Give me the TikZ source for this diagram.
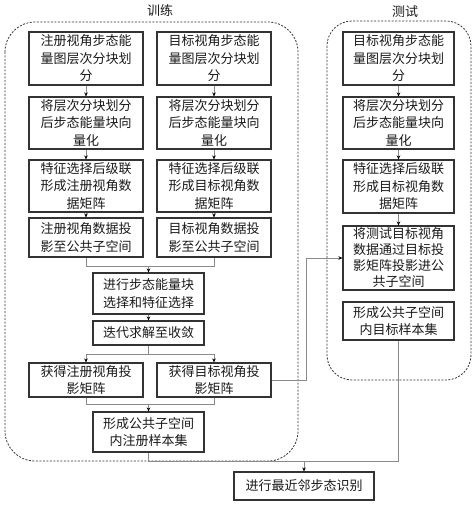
\documentclass[tikz,border=0pt]{standalone}
\usepackage{fontspec}
\newfontfamily\cjk{Noto Sans CJK SC}
\usetikzlibrary{arrows.meta}
\definecolor{boxc}{HTML}{333333}
\definecolor{linec}{HTML}{8A8A8A}
\definecolor{txtc}{HTML}{1A1A1A}
\tikzset{
  box/.style={draw=boxc, line width=1.2pt, fill=white, align=center, inner sep=0pt,
    text=txtc, font=\cjk\fontsize{13}{17.5}\selectfont},
  conn/.style={draw=linec, line width=0.8pt},
  arr/.style={conn, -{Stealth[length=4pt,width=3.6pt,black]}},
  group/.style={draw=boxc, line width=0.8pt, dash pattern=on 2pt off 1.5pt},
  lab/.style={text=txtc, font=\cjk\fontsize{13}{15}\selectfont, inner sep=0pt}
}
\begin{document}
\begin{tikzpicture}[x=1pt,y=-1pt]
\useasboundingbox (0,0) rectangle (474,505);
% containers
\draw[group, rounded corners=30pt] (5,22) rectangle (298,461);
\draw[group, rounded corners=25pt] (327,21) rectangle (471,380);
\node[lab] (trainlab) at (160,11) {训练};
\node[lab] (testlab) at (405,12) {测试};
% left column
\node[box, minimum width=114pt, minimum height=53pt] (L1) at (86,58.5) {注册视角步态能\\量图层次分块划\\分};
\node[box, minimum width=114pt, minimum height=52pt] (L2) at (86,123) {将层次分块划分\\后步态能量块向\\量化};
\node[box, minimum width=114pt, minimum height=52pt] (L3) at (86,186) {特征选择后级联\\形成注册视角数\\据矩阵};
\node[box, minimum width=114pt, minimum height=39pt] (L4) at (86,237.5) {注册视角数据投\\影至公共子空间};
% right column
\node[box, minimum width=114pt, minimum height=53pt] (R1) at (214,58.5) {目标视角步态能\\量图层次分块划\\分};
\node[box, minimum width=114pt, minimum height=52pt] (R2) at (214,123) {将层次分块划分\\后步态能量块向\\量化};
\node[box, minimum width=114pt, minimum height=52pt] (R3) at (214,186) {特征选择后级联\\形成目标视角数\\据矩阵};
\node[box, minimum width=114pt, minimum height=39pt] (R4) at (214,237.5) {目标视角数据投\\影至公共子空间};
% middle
\node[box, minimum width=111pt, minimum height=41pt] (M5) at (148.5,293.5) {进行步态能量块\\选择和特征选择};
\node[box, minimum width=111pt, minimum height=24pt] (M6) at (148.5,333) {迭代求解至收敛};
\node[box, minimum width=114pt, minimum height=34pt] (L7) at (86,380) {获得注册视角投\\影矩阵};
\node[box, minimum width=114pt, minimum height=34pt] (R7) at (214,380) {获得目标视角投\\影矩阵};
\node[box, minimum width=111pt, minimum height=40pt] (M8) at (148.5,432) {形成公共子空间\\内注册样本集};
% test column
\node[box, minimum width=111pt, minimum height=53pt] (T1) at (398.5,58.5) {目标视角步态能\\量图层次分块划\\分};
\node[box, minimum width=111pt, minimum height=52pt] (T2) at (398.5,123) {将层次分块划分\\后步态能量块向\\量化};
\node[box, minimum width=111pt, minimum height=53pt] (T3) at (398.5,186.5) {特征选择后级联\\形成目标视角数\\据矩阵};
\node[box, minimum width=111pt, minimum height=64pt, font=\cjk\fontsize{13}{16}\selectfont] (T4) at (398.5,258) {将测试目标视角\\数据通过目标投\\影矩阵投影进公\\共子空间};
\node[box, minimum width=111pt, minimum height=38pt] (T5) at (398.5,321) {形成公共子空间\\内目标样本集};
% final
\node[box, minimum width=140pt, minimum height=28pt] (F) at (304,486) {进行最近邻步态识别};
% column arrows
\draw[arr] (L1) -- (L2);
\draw[arr] (L2) -- (L3);
\draw[arr] (L3) -- (L4);
\draw[arr] (R1) -- (R2);
\draw[arr] (R2) -- (R3);
\draw[arr] (R3) -- (R4);
\draw[arr] (T1) -- (T2);
\draw[arr] (T2) -- (T3);
\draw[arr] (T3) -- (T4);
% merge 1
\coordinate (m1) at (148.5,266);
\draw[conn] (L4.south) |- (m1);
\draw[conn] (R4.south) |- (m1);
\draw[arr] (m1) -- (M5.north);
\draw[arr] (M5) -- (M6);
% split
\coordinate (s1) at (148.5,354);
\draw[conn] (M6.south) -- (s1);
\draw[arr] (s1) -| (L7.north);
\draw[arr] (s1) -| (R7.north);
% merge 2
\coordinate (m2) at (148.5,404);
\draw[conn] (L7.south) |- (m2);
\draw[conn] (R7.south) |- (m2);
\draw[arr] (m2) -- (M8.north);
% to test
\coordinate (j1) at (306,380);
\draw[arr] (R7.east) -- (j1) |- (T4.west);
% to final
\coordinate (j2) at (304,461);
\draw[conn] (M8.south) |- (j2);
\draw[conn] (T5.south) |- (j2);
\draw[arr] (j2) -- (F.north);
\end{tikzpicture}
\end{document}
